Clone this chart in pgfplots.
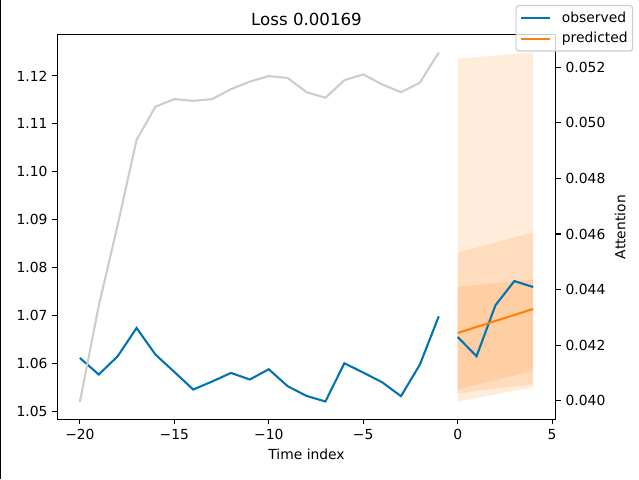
\documentclass[border=0pt]{standalone}
\usepackage{fontspec}
\setmainfont{DejaVu Sans}
\usepackage{pgfplots}
\pgfplotsset{compat=1.18}

\definecolor{obsblue}{HTML}{0173B2}
\definecolor{predorange}{HTML}{FF7F0E}
\definecolor{attngray}{HTML}{CCCCCC}

\pgfplotsset{
  common/.style={
    at={(41.26pt,43.2pt)}, anchor=south west,
    scale only axis, width=359.6pt, height=277.2pt,
    xmin=-21.2, xmax=5.2,
    scaled ticks=false,
    tick align=outside, major tick length=3.5pt,
    every tick/.style={black, line width=0.8pt},
    axis line style={line width=0.8pt},
    tick label style={font=\fontsize{10}{12}\selectfont},
    label style={font=\fontsize{10}{12}\selectfont},
  }
}

\begin{document}
\begin{tikzpicture}
\useasboundingbox (0,0) rectangle (460.8pt,345.6pt);
\draw[black, line width=0.72pt] (0.36pt,0) -- (0.36pt,345.6pt);

% left axis: observed, predicted and quantile bands
\begin{axis}[common,
  ymin=1.04836, ymax=1.12855,
  xtick={-20,-15,-10,-5,0,5},
  xticklabels={−20,−15,−10,−5,0,5},
  ytick={1.05,1.06,1.07,1.08,1.09,1.10,1.11,1.12},
  yticklabels={1.05,1.06,1.07,1.08,1.09,1.10,1.11,1.12},
  xtick pos=bottom, ytick pos=left,
  xlabel={Time index},
  title={Loss 0.00169},
  title style={font=\fontsize{12}{14}\selectfont, yshift=-3pt},
]
\addplot[draw=none, fill=predorange, fill opacity=0.15]
  coordinates {(0,1.1236) (4,1.1249) (4,1.0551) (0,1.0520)} -- cycle;
\addplot[draw=none, fill=predorange, fill opacity=0.15]
  coordinates {(0,1.0831) (4,1.0874) (4,1.0557) (0,1.0538)} -- cycle;
\addplot[draw=none, fill=predorange, fill opacity=0.15]
  coordinates {(0,1.0760) (4,1.0775) (4,1.0585) (0,1.0546)} -- cycle;

\addplot[obsblue, line width=1.5pt] coordinates {
  (-20,1.06117) (-19,1.05771) (-18,1.06152) (-17,1.06742) (-16,1.06188)
  (-15,1.05825) (-14,1.05458) (-13,1.05625) (-12,1.05804) (-11,1.05667)
  (-10,1.05881) (-9,1.05527) (-8,1.05325) (-7,1.05208) (-6,1.06006)
  (-5,1.05812) (-4,1.05610) (-3,1.05319) (-2,1.05979) (-1,1.06985)
};
\addplot[obsblue, line width=1.5pt] coordinates {
  (0,1.06554) (1,1.06152) (2,1.07215) (3,1.07721) (4,1.07596)
};
\addplot[predorange, line width=1.5pt] coordinates {
  (0,1.06638) (1,1.06763) (2,1.06888) (3,1.07013) (4,1.07138)
};
\end{axis}

% right axis: attention
\begin{axis}[common,
  ymin=0.039332, ymax=0.053159,
  axis y line*=right, axis x line=none,
  yticklabel pos=right,
  ytick={0.040,0.042,0.044,0.046,0.048,0.050,0.052},
  yticklabels={0.040,0.042,0.044,0.046,0.048,0.050,0.052},
  ylabel={Attention},
  legend style={at={(1,1)}, anchor=north east, xshift=55.7pt, yshift=21.6pt,
    draw=attngray, line width=0.8pt, rounded corners=2pt,
    fill=white, fill opacity=0.8, draw opacity=1, text opacity=1,
    font=\fontsize{10}{12}\selectfont,
    inner xsep=2.5pt, inner ysep=3.3pt, row sep=4pt,
    nodes={inner xsep=1pt, inner ysep=1pt},
    /tikz/every odd column/.append style={column sep=7pt},
    cells={anchor=west}},
  legend image code/.code={\draw[#1] (0pt,0pt) -- (21pt,0pt);},
]
\addlegendimage{obsblue, line width=1.5pt}
\addlegendentry{observed}
\addlegendimage{predorange, line width=1.5pt}
\addlegendentry{predicted}
\addplot[attngray, line width=1.5pt, forget plot] coordinates {
  (-20,0.03996) (-19,0.04342) (-18,0.04632) (-17,0.04938) (-16,0.05058)
  (-15,0.05085) (-14,0.05079) (-13,0.05085) (-12,0.05121) (-11,0.05148)
  (-10,0.05168) (-9,0.05161) (-8,0.05110) (-7,0.05090) (-6,0.05153)
  (-5,0.05174) (-4,0.05138) (-3,0.05110) (-2,0.05144) (-1,0.05253)
};
\end{axis}
\end{tikzpicture}
\end{document}
